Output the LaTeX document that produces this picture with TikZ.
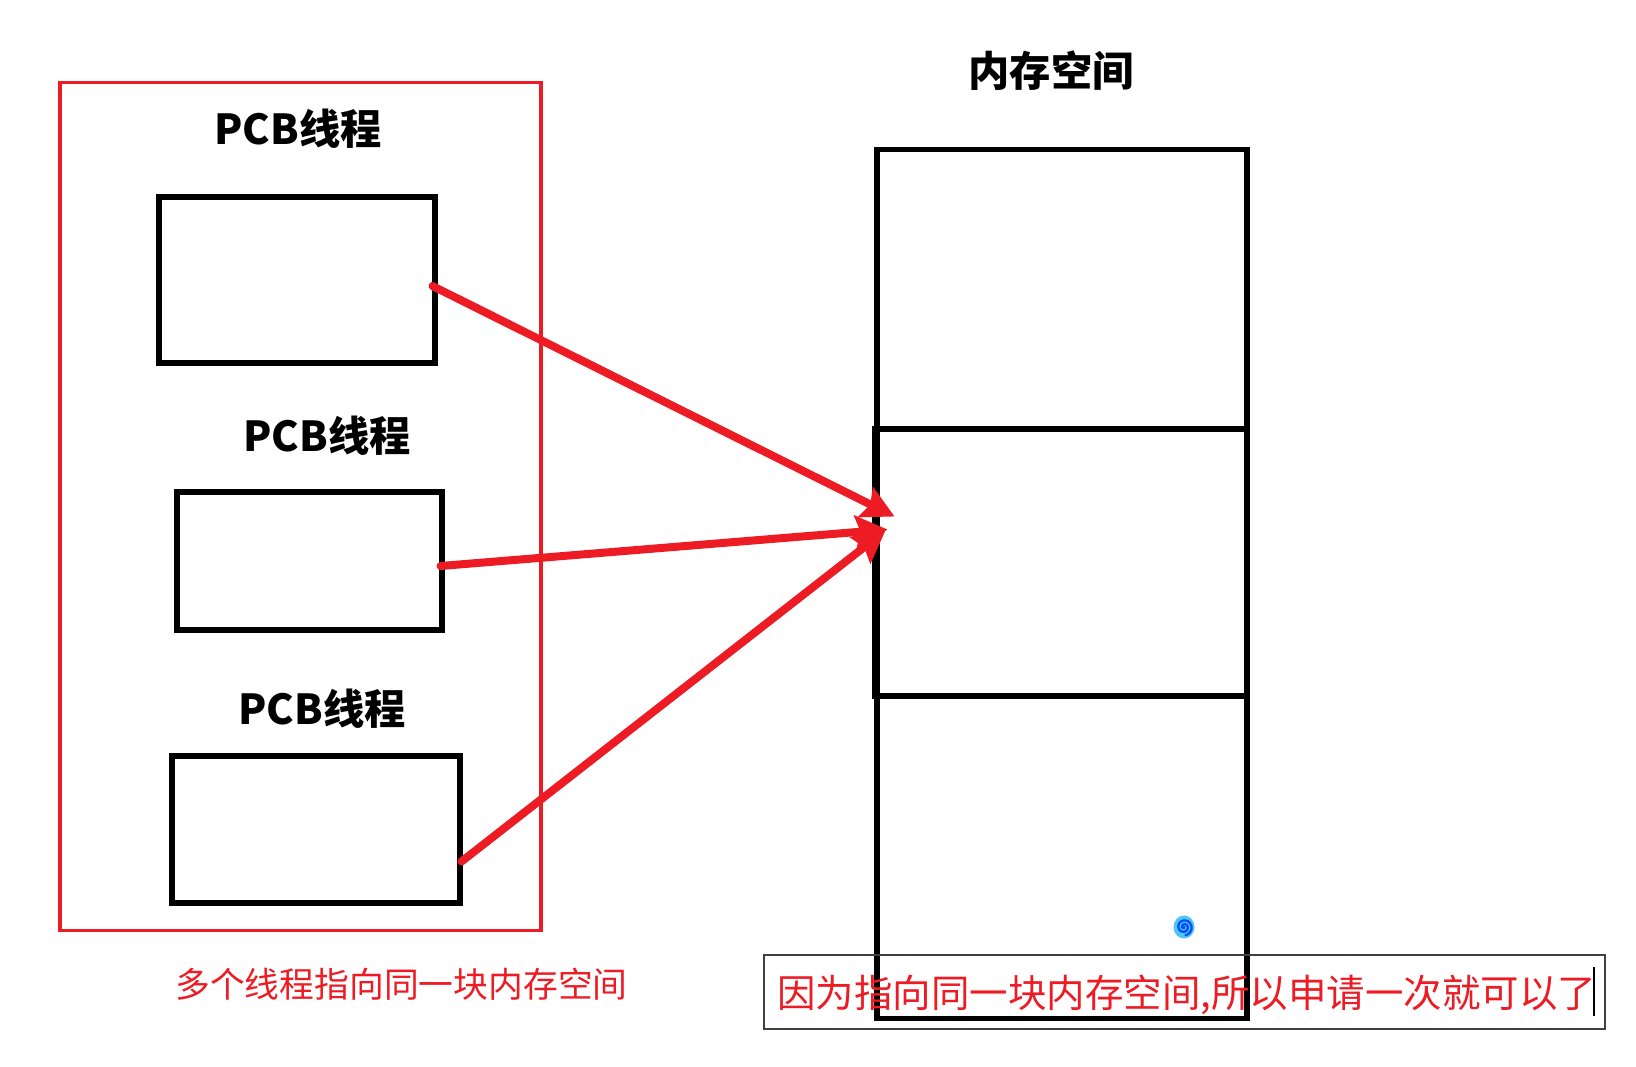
\documentclass[tikz,border=0pt]{standalone}
\usepackage{fontspec}
\newfontfamily\cjk{Noto Sans CJK SC}
\usetikzlibrary{arrows.meta, shapes.geometric}
\definecolor{markred}{HTML}{ED1C24}
\tikzset{
    blackbox/.style={draw=black, line width=0.102cm, inner sep=0pt},
    title/.style={font=\cjk\bfseries\fontsize{23.5}{24}\selectfont, text=black, inner sep=0pt},
    pointer/.style={->, markred, line width=0.16cm, line cap=round},
    note/.style={font=\cjk\fontsize{19.8}{20}\selectfont, text=markred, inner sep=0pt},
}
\begin{document}
\begin{tikzpicture}[x=0.02cm, y=-0.02cm, >={Stealth[length=0.64cm, width=0.66cm, inset=0.1cm]}]
    \useasboundingbox (0,0) rectangle (1636,1066);
    \fill[white] (0,0) rectangle (1636,1066);

    \node[draw=markred, line width=0.07cm, inner sep=0pt, minimum width=9.62cm, minimum height=16.96cm] (group) at (300.5,506.5) {};

    \node[title] (labelA) at (298,129) {PCB线程};
    \node[title] (labelB) at (327,435.5) {PCB线程};
    \node[title] (labelC) at (322,708.5) {PCB线程};
    \node[title] (labelMem) at (1051,71) {内存空间};

    \node[blackbox, minimum width=5.52cm, minimum height=3.32cm] (pcbA) at (297,280) {};
    \node[blackbox, minimum width=5.3cm, minimum height=2.76cm] (pcbB) at (309.5,561) {};
    \node[blackbox, minimum width=5.76cm, minimum height=2.94cm] (pcbC) at (316,829.5) {};

    \node[blackbox, minimum width=7.4cm, minimum height=17.4cm] (memory) at (1062,584) {};
    \node[blackbox, minimum width=7.44cm, minimum height=5.34cm] (shared) at (1061,562.5) {};

    \draw[pointer] ([shift={(-5,6)}]pcbA.east) -- ([shift={(22,-46)}]shared.west);
    \draw[pointer] ([shift={(-4,5)}]pcbB.east) -- ([shift={(15,-33)}]shared.west);
    \draw[pointer] ([shift={(-1,32)}]pcbC.east) -- ([shift={(13,-32)}]shared.west);

    \node[note] (noteGroup) at (401.5,984.5) {多个线程指向同一块内存空间};

    \node[draw=black!75, line width=0.025cm, inner sep=0pt, minimum width=16.82cm, minimum height=1.48cm] (answer) at (1184.5,992) {};
    \node[note, font=\cjk\fontsize{21.9}{22}\selectfont, anchor=west] (noteAnswer) at (777,995) {因为指向同一块内存空间,所以申请一次就可以了};
    \node[fill=black, inner sep=0pt, minimum width=0.035cm, minimum height=0.98cm] (cursor) at (1594,991.5) {};

    \node[ellipse, fill=cyan!70!white, inner sep=0pt, minimum width=0.42cm, minimum height=0.46cm] (swirl) at (1184,927) {};
    \draw[blue!70!cyan, line width=0.045cm, line cap=round, shift={(swirl.center)}] plot[domain=0:800, samples=60, smooth] ({0.0105*\x*cos(\x)}, {0.0105*\x*sin(\x)});
\end{tikzpicture}
\end{document}
